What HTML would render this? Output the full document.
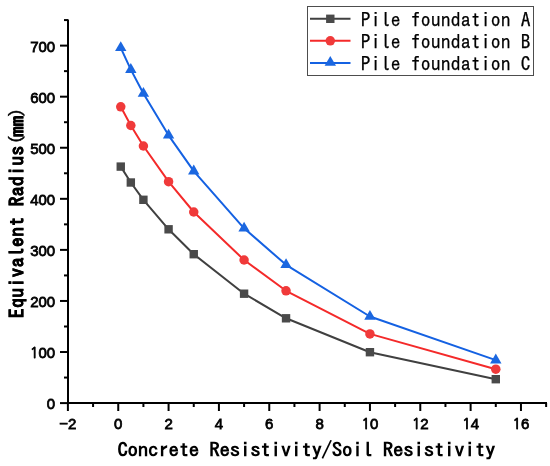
<!DOCTYPE html><html><head><meta charset="utf-8"><style>html,body{margin:0;padding:0;background:#fff;}svg{display:block}</style></head><body>
<svg width="550" height="466" viewBox="0 0 550 466">
<rect width="550" height="466" fill="#fff"/>
<g stroke="#000" stroke-width="2" fill="none">
<line x1="68" y1="19.5" x2="68" y2="404"/>
<line x1="67" y1="403" x2="547" y2="403"/>
<line x1="60" y1="403.1" x2="68" y2="403.1"/>
<line x1="64" y1="377.56" x2="68" y2="377.56"/>
<line x1="60" y1="352.03" x2="68" y2="352.03"/>
<line x1="64" y1="326.5" x2="68" y2="326.5"/>
<line x1="60" y1="300.96" x2="68" y2="300.96"/>
<line x1="64" y1="275.43" x2="68" y2="275.43"/>
<line x1="60" y1="249.89" x2="68" y2="249.89"/>
<line x1="64" y1="224.36" x2="68" y2="224.36"/>
<line x1="60" y1="198.82" x2="68" y2="198.82"/>
<line x1="64" y1="173.28" x2="68" y2="173.28"/>
<line x1="60" y1="147.75" x2="68" y2="147.75"/>
<line x1="64" y1="122.21" x2="68" y2="122.21"/>
<line x1="60" y1="96.68" x2="68" y2="96.68"/>
<line x1="64" y1="71.14" x2="68" y2="71.14"/>
<line x1="60" y1="45.61" x2="68" y2="45.61"/>
<line x1="64" y1="20.07" x2="68" y2="20.07"/>
<line x1="67.9" y1="403" x2="67.9" y2="411"/>
<line x1="93.07" y1="403" x2="93.07" y2="407"/>
<line x1="118.24" y1="403" x2="118.24" y2="411"/>
<line x1="143.41" y1="403" x2="143.41" y2="407"/>
<line x1="168.58" y1="403" x2="168.58" y2="411"/>
<line x1="193.75" y1="403" x2="193.75" y2="407"/>
<line x1="218.92" y1="403" x2="218.92" y2="411"/>
<line x1="244.09" y1="403" x2="244.09" y2="407"/>
<line x1="269.26" y1="403" x2="269.26" y2="411"/>
<line x1="294.43" y1="403" x2="294.43" y2="407"/>
<line x1="319.6" y1="403" x2="319.6" y2="411"/>
<line x1="344.77" y1="403" x2="344.77" y2="407"/>
<line x1="369.94" y1="403" x2="369.94" y2="411"/>
<line x1="395.11" y1="403" x2="395.11" y2="407"/>
<line x1="420.28" y1="403" x2="420.28" y2="411"/>
<line x1="445.45" y1="403" x2="445.45" y2="407"/>
<line x1="470.62" y1="403" x2="470.62" y2="411"/>
<line x1="495.79" y1="403" x2="495.79" y2="407"/>
<line x1="520.96" y1="403" x2="520.96" y2="411"/>
<line x1="546.13" y1="403" x2="546.13" y2="407"/>
</g>
<text transform="translate(55.2,409.4) scale(0.975,1)" text-anchor="end" font-family="Liberation Sans, Arial, sans-serif" font-size="15.4" fill="#000" stroke="#000" stroke-width="0.8">0</text>
<text transform="translate(55.2,358.33) scale(0.975,1)" text-anchor="end" font-family="Liberation Sans, Arial, sans-serif" font-size="15.4" fill="#000" stroke="#000" stroke-width="0.8"><tspan font-family="NanumGothic, Liberation Sans, sans-serif" font-size="14.3" stroke-width="0.85">1</tspan>00</text>
<text transform="translate(55.2,307.26) scale(0.975,1)" text-anchor="end" font-family="Liberation Sans, Arial, sans-serif" font-size="15.4" fill="#000" stroke="#000" stroke-width="0.8">200</text>
<text transform="translate(55.2,256.19) scale(0.975,1)" text-anchor="end" font-family="Liberation Sans, Arial, sans-serif" font-size="15.4" fill="#000" stroke="#000" stroke-width="0.8">300</text>
<text transform="translate(55.2,205.12) scale(0.975,1)" text-anchor="end" font-family="Liberation Sans, Arial, sans-serif" font-size="15.4" fill="#000" stroke="#000" stroke-width="0.8">400</text>
<text transform="translate(55.2,154.05) scale(0.975,1)" text-anchor="end" font-family="Liberation Sans, Arial, sans-serif" font-size="15.4" fill="#000" stroke="#000" stroke-width="0.8">500</text>
<text transform="translate(55.2,102.98) scale(0.975,1)" text-anchor="end" font-family="Liberation Sans, Arial, sans-serif" font-size="15.4" fill="#000" stroke="#000" stroke-width="0.8">600</text>
<text transform="translate(55.2,51.91) scale(0.975,1)" text-anchor="end" font-family="Liberation Sans, Arial, sans-serif" font-size="15.4" fill="#000" stroke="#000" stroke-width="0.8">700</text>
<text transform="translate(67.9,429.4) scale(0.975,1)" text-anchor="middle" font-family="Liberation Sans, Arial, sans-serif" font-size="15.4" fill="#000" stroke="#000" stroke-width="0.8">−2</text>
<text transform="translate(118.24,429.4) scale(0.975,1)" text-anchor="middle" font-family="Liberation Sans, Arial, sans-serif" font-size="15.4" fill="#000" stroke="#000" stroke-width="0.8">0</text>
<text transform="translate(168.58,429.4) scale(0.975,1)" text-anchor="middle" font-family="Liberation Sans, Arial, sans-serif" font-size="15.4" fill="#000" stroke="#000" stroke-width="0.8">2</text>
<text transform="translate(218.92,429.4) scale(0.975,1)" text-anchor="middle" font-family="Liberation Sans, Arial, sans-serif" font-size="15.4" fill="#000" stroke="#000" stroke-width="0.8">4</text>
<text transform="translate(269.26,429.4) scale(0.975,1)" text-anchor="middle" font-family="Liberation Sans, Arial, sans-serif" font-size="15.4" fill="#000" stroke="#000" stroke-width="0.8">6</text>
<text transform="translate(319.6,429.4) scale(0.975,1)" text-anchor="middle" font-family="Liberation Sans, Arial, sans-serif" font-size="15.4" fill="#000" stroke="#000" stroke-width="0.8">8</text>
<text transform="translate(369.94,429.4) scale(0.975,1)" text-anchor="middle" font-family="Liberation Sans, Arial, sans-serif" font-size="15.4" fill="#000" stroke="#000" stroke-width="0.8"><tspan font-family="NanumGothic, Liberation Sans, sans-serif" font-size="14.3" stroke-width="0.85">1</tspan>0</text>
<text transform="translate(420.28,429.4) scale(0.975,1)" text-anchor="middle" font-family="Liberation Sans, Arial, sans-serif" font-size="15.4" fill="#000" stroke="#000" stroke-width="0.8"><tspan font-family="NanumGothic, Liberation Sans, sans-serif" font-size="14.3" stroke-width="0.85">1</tspan>2</text>
<text transform="translate(470.62,429.4) scale(0.975,1)" text-anchor="middle" font-family="Liberation Sans, Arial, sans-serif" font-size="15.4" fill="#000" stroke="#000" stroke-width="0.8"><tspan font-family="NanumGothic, Liberation Sans, sans-serif" font-size="14.3" stroke-width="0.85">1</tspan>4</text>
<text transform="translate(520.96,429.4) scale(0.975,1)" text-anchor="middle" font-family="Liberation Sans, Arial, sans-serif" font-size="15.4" fill="#000" stroke="#000" stroke-width="0.8"><tspan font-family="NanumGothic, Liberation Sans, sans-serif" font-size="14.3" stroke-width="0.85">1</tspan>6</text>
<text transform="translate(117.4,457.3) scale(1.08,1)" x="0" y="0" font-family="IPAGothic, 'Noto Sans CJK JP', monospace" font-weight="bold" font-size="19.4" letter-spacing="-0.245" fill="#000">Concrete Resistivity/Soil Resistivity</text>
<text transform="translate(23.8,318) rotate(-90)" x="0" y="0" font-family="IPAGothic, 'Noto Sans CJK JP', monospace" font-weight="bold" font-size="19.4" letter-spacing="0.46" fill="#000" stroke="#000" stroke-width="0.3">Equivalent Radius</text>
<text transform="translate(22.9,144) rotate(-90)" font-family="IPAGothic, 'Noto Sans CJK JP', monospace" fill="#000" font-size="18" stroke="#000" stroke-width="0.45">(</text>
<text transform="translate(23.8,138.1) rotate(-90) scale(1.18,1)" font-family="IPAGothic, 'Noto Sans CJK JP', monospace" fill="#000" font-size="19.4" font-weight="bold" stroke="#000" stroke-width="0.1">㎜</text>
<text transform="translate(22.9,117.2) rotate(-90)" font-family="IPAGothic, 'Noto Sans CJK JP', monospace" fill="#000" font-size="18" stroke="#000" stroke-width="0.45">)</text>
<polyline points="120.76,166.6 130.83,182.5 143.41,199.8 168.58,229.3 193.75,254.2 244.09,293.7 286.04,318.3 369.94,352.2 495.79,379.2" fill="none" stroke="#404040" stroke-width="2.0" stroke-linejoin="round"/>
<polyline points="120.76,106.8 130.83,125.5 143.41,146.0 168.58,181.7 193.75,212.0 244.09,260.0 286.04,290.8 369.94,333.9 495.79,369.2" fill="none" stroke="#F42A2A" stroke-width="2.0" stroke-linejoin="round"/>
<polyline points="120.76,47.8 130.83,69.6 143.41,93.5 168.58,135.3 193.75,171.1 244.09,228.3 286.04,264.8 369.94,316.5 495.79,360.1" fill="none" stroke="#1461E2" stroke-width="2.0" stroke-linejoin="round"/>
<rect x="116.56" y="162.4" width="8.4" height="8.4" fill="#4A4A4A"/>
<rect x="126.63" y="178.3" width="8.4" height="8.4" fill="#4A4A4A"/>
<rect x="139.21" y="195.6" width="8.4" height="8.4" fill="#4A4A4A"/>
<rect x="164.38" y="225.1" width="8.4" height="8.4" fill="#4A4A4A"/>
<rect x="189.55" y="250.0" width="8.4" height="8.4" fill="#4A4A4A"/>
<rect x="239.89" y="289.5" width="8.4" height="8.4" fill="#4A4A4A"/>
<rect x="281.84" y="314.1" width="8.4" height="8.4" fill="#4A4A4A"/>
<rect x="365.74" y="348.0" width="8.4" height="8.4" fill="#4A4A4A"/>
<rect x="491.59" y="375.0" width="8.4" height="8.4" fill="#4A4A4A"/>
<circle cx="120.76" cy="106.8" r="4.75" fill="#F03A3A"/>
<circle cx="130.83" cy="125.5" r="4.75" fill="#F03A3A"/>
<circle cx="143.41" cy="146.0" r="4.75" fill="#F03A3A"/>
<circle cx="168.58" cy="181.7" r="4.75" fill="#F03A3A"/>
<circle cx="193.75" cy="212.0" r="4.75" fill="#F03A3A"/>
<circle cx="244.09" cy="260.0" r="4.75" fill="#F03A3A"/>
<circle cx="286.04" cy="290.8" r="4.75" fill="#F03A3A"/>
<circle cx="369.94" cy="333.9" r="4.75" fill="#F03A3A"/>
<circle cx="495.79" cy="369.2" r="4.75" fill="#F03A3A"/>
<polygon points="120.76,41.3 126.46,51.1 115.06,51.1" fill="#1B67E0"/>
<polygon points="130.83,63.1 136.53,72.9 125.13,72.9" fill="#1B67E0"/>
<polygon points="143.41,87.0 149.11,96.8 137.71,96.8" fill="#1B67E0"/>
<polygon points="168.58,128.8 174.28,138.6 162.88,138.6" fill="#1B67E0"/>
<polygon points="193.75,164.6 199.45,174.4 188.05,174.4" fill="#1B67E0"/>
<polygon points="244.09,221.8 249.79,231.6 238.39,231.6" fill="#1B67E0"/>
<polygon points="286.04,258.3 291.74,268.1 280.34,268.1" fill="#1B67E0"/>
<polygon points="369.94,310.0 375.64,319.8 364.24,319.8" fill="#1B67E0"/>
<polygon points="495.79,353.6 501.49,363.4 490.09,363.4" fill="#1B67E0"/>
<rect x="307.5" y="6.5" width="226" height="69" fill="#fff" stroke="#4d4d4d" stroke-width="1"/>
<line x1="310" y1="18.8" x2="350.5" y2="18.8" stroke="#404040" stroke-width="2.0"/>
<rect x="326.1" y="14.6" width="8.4" height="8.4" fill="#4A4A4A"/>
<line x1="310" y1="40.8" x2="350.5" y2="40.8" stroke="#F42A2A" stroke-width="2.0"/>
<circle cx="330.3" cy="40.8" r="4.75" fill="#F03A3A"/>
<line x1="310" y1="62.9" x2="350.5" y2="62.9" stroke="#1461E2" stroke-width="2.0"/>
<polygon points="330.3,56.0 336.0,65.8 324.6,65.8" fill="#1B67E0"/>
<text x="360.8" y="27.3" font-family="IPAGothic, 'Noto Sans CJK JP', monospace" font-size="19.5" letter-spacing="0.25" fill="#000" stroke="#000" stroke-width="0.25">Pile foundation A</text>
<text x="360.8" y="49.1" font-family="IPAGothic, 'Noto Sans CJK JP', monospace" font-size="19.5" letter-spacing="0.25" fill="#000" stroke="#000" stroke-width="0.25">Pile foundation B</text>
<text x="360.8" y="70.8" font-family="IPAGothic, 'Noto Sans CJK JP', monospace" font-size="19.5" letter-spacing="0.25" fill="#000" stroke="#000" stroke-width="0.25">Pile foundation C</text>
</svg></body></html>
